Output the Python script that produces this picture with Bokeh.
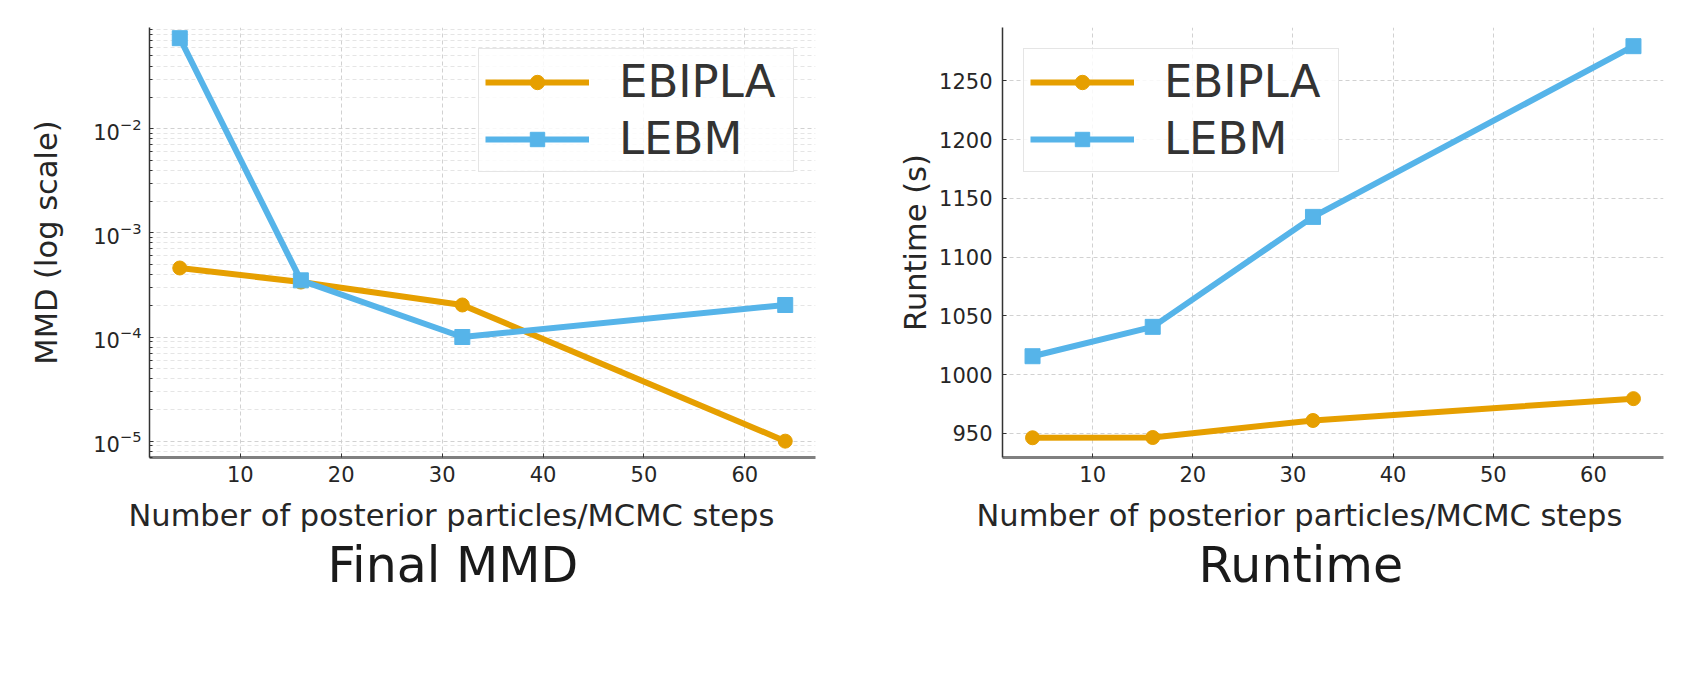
from bokeh.plotting import figure
from bokeh.layouts import row
from bokeh.models import (FixedTicker, LogTickFormatter, Title, Legend, LegendItem,
                          Range1d, ColumnDataSource)
from bokeh.embed import file_html
from bokeh.resources import INLINE

# ---------------- data ----------------
steps = [4, 16, 32, 64]
mmd_ebipla = [4.6e-4, 3.37e-4, 2.03e-4, 1.0e-5]
mmd_lebm = [7.4e-2, 3.5e-4, 1.0e-4, 2.03e-4]
runtime_ebipla = [946.3, 946.5, 961.0, 979.6]
runtime_lebm = [1015.7, 1040.7, 1134.3, 1279.6]

series_names = ["EBIPLA", "LEBM"]
colors = ["#E69F00", "#56B4E9"]
x_ticks = [10, 20, 30, 40, 50, 60]
mmd_major_ticks = [1e-5, 1e-4, 1e-3, 1e-2]
mmd_minor_ticks = [m * 10.0 ** e for e in range(-6, 0) for m in range(2, 10)]
runtime_ticks = [950, 1000, 1050, 1100, 1150, 1200, 1250]

x_label = "Number of posterior particles/MCMC steps"
FONT = "DejaVu Sans"
TXT = "#262626"


def style(p, ylabel, ylabel_standoff, ytick_standoff):
    p.outline_line_color = None
    p.background_fill_color = "white"
    p.border_fill_color = "white"
    for ax in (p.xaxis[0], p.yaxis[0]):
        ax.major_label_text_font = FONT
        ax.major_label_text_font_size = "21px"
        ax.major_label_text_color = TXT
        ax.axis_label_text_font = FONT
        ax.axis_label_text_font_size = "30.5px"
        ax.axis_label_text_font_style = "normal"
        ax.axis_label_text_color = TXT
        ax.major_tick_in = 4
        ax.major_tick_out = 0
        ax.major_tick_line_color = "#333333"
        ax.minor_tick_in = 3
        ax.minor_tick_out = 0
        ax.minor_tick_line_color = "#333333"
    xa = p.xaxis[0]
    xa.axis_line_color = "#808080"
    xa.axis_line_width = 3
    xa.minor_tick_line_color = None
    xa.major_label_standoff = 8
    xa.ticker = FixedTicker(ticks=x_ticks)
    ya = p.yaxis[0]
    ya.axis_line_color = "#333333"
    ya.axis_line_width = 1.5
    ya.major_label_standoff = ytick_standoff
    ya.axis_label = ylabel
    ya.axis_label_standoff = ylabel_standoff
    for g in (p.xgrid[0], p.ygrid[0]):
        g.grid_line_color = "#cccccc"
        g.grid_line_dash = "4 3"
        g.grid_line_width = 0.9


def add_series(p, ys_a, ys_b):
    items = []
    for name, ys, col, marker, size in zip(series_names, [ys_a, ys_b], colors,
                                           ["circle", "square"], [14, 15]):
        src = ColumnDataSource(dict(x=steps, y=ys))
        ln = p.line("x", "y", source=src, line_color=col, line_width=6)
        sc = p.scatter("x", "y", source=src, marker=marker, size=size,
                       fill_color=col, line_color=col)
        items.append(LegendItem(label=name, renderers=[ln, sc]))
    return items


def add_legend(p, items, loc):
    lg = Legend(items=items, location=loc)
    lg.label_text_font = FONT
    lg.label_text_font_size = "45px"
    lg.label_text_color = "#333333"
    lg.glyph_width = 104
    lg.glyph_height = 36
    lg.label_standoff = 30
    lg.label_width = 168
    lg.padding = 6
    lg.spacing = 4
    lg.margin = 21
    lg.border_line_color = "#cccccc"
    lg.border_line_width = 1
    lg.background_fill_color = "white"
    lg.background_fill_alpha = 0.85
    p.add_layout(lg, "center")


def add_bottom_texts(p, xlabel_offset, title, title_offset):
    t1 = Title(text=x_label, align="left", offset=xlabel_offset, text_font=FONT,
               text_font_size="30.5px", text_font_style="normal", text_color=TXT,
               standoff=23)
    p.add_layout(t1, "below")
    t2 = Title(text=title, align="left", offset=title_offset, text_font=FONT,
               text_font_size="49px", text_font_style="normal", text_color="#1a1a1a",
               standoff=-20)
    p.add_layout(t2, "below")


# ---------------- left: Final MMD ----------------
p1 = figure(width=854, height=660, y_axis_type="log",
            x_range=Range1d(1, 67), y_range=Range1d(10 ** -5.157, 10 ** -1.028),
            output_backend="svg", toolbar_location=None,
            min_border_left=149, min_border_right=39,
            min_border_top=27, min_border_bottom=203)
style(p1, "MMD (log scale)", 26, 8)
p1.yaxis[0].ticker = FixedTicker(ticks=mmd_major_ticks, minor_ticks=mmd_minor_ticks)
p1.yaxis[0].formatter = LogTickFormatter()
p1.ygrid[0].minor_grid_line_color = "#dedede"
p1.ygrid[0].minor_grid_line_dash = "4 3"
p1.ygrid[0].minor_grid_line_width = 0.8
items1 = add_series(p1, mmd_ebipla, mmd_lebm)
add_legend(p1, items1, "top_right")
add_bottom_texts(p1, -21, "Final MMD", 178)

# ---------------- right: Runtime ----------------
p2 = figure(width=838, height=660,
            x_range=Range1d(1, 67), y_range=Range1d(929.5, 1295.5),
            output_backend="svg", toolbar_location=None,
            min_border_left=148, min_border_right=29,
            min_border_top=27, min_border_bottom=203)
style(p2, "Runtime (s)", 3, 10)
p2.yaxis[0].ticker = FixedTicker(ticks=runtime_ticks)
p2.yaxis[0].minor_tick_line_color = None
items2 = add_series(p2, runtime_ebipla, runtime_lebm)
add_legend(p2, items2, "top_left")
add_bottom_texts(p2, -26, "Runtime", 196)

layout = row(p1, p2)
open("out.html", "w").write(file_html(layout, INLINE))
